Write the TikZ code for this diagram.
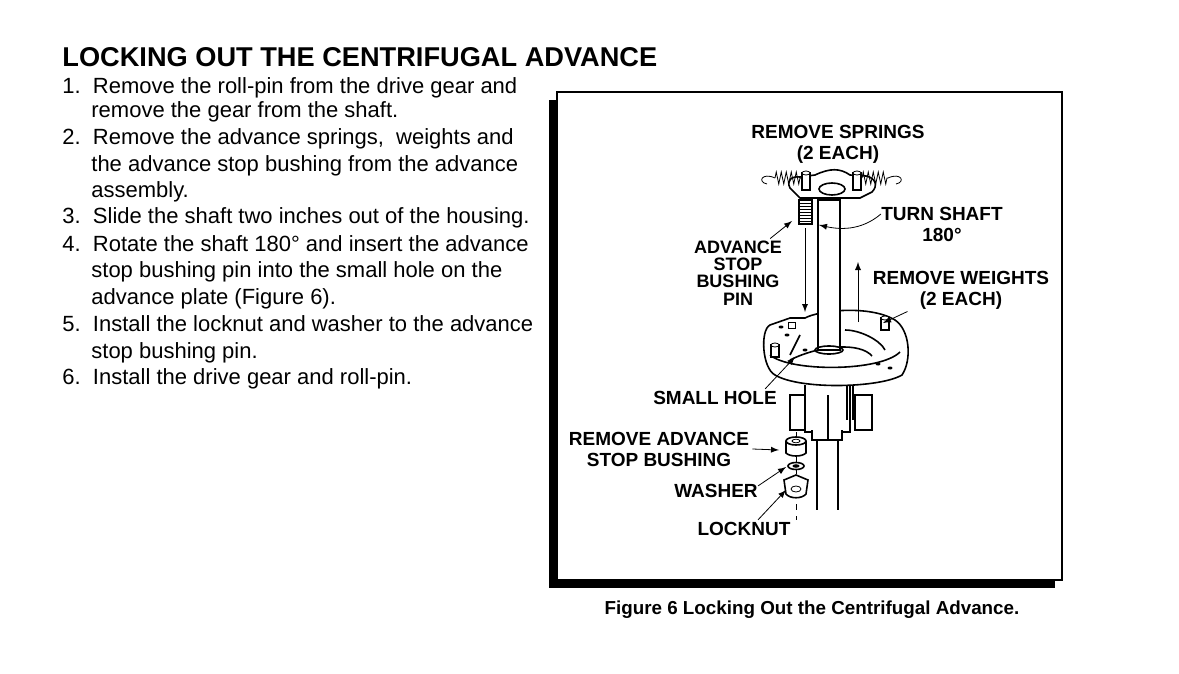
\documentclass[tikz,border=0pt]{standalone}
\usepackage{fontspec}
\setmainfont{Liberation Sans}
\usetikzlibrary{decorations.pathmorphing}
\tikzset{
  body/.style={anchor=base west,font=\fontsize{11}{12}\selectfont,inner sep=0pt},
  lbl/.style={font=\bfseries\fontsize{9.5}{9.5}\selectfont,inner sep=0pt,align=center},
  ptr/.style={-latex,thin},
  part/.style={line width=0.8pt,fill=white},
}
\begin{document}
\begin{tikzpicture}[x=0.5pt,y=-0.5pt]
\useasboundingbox (0,0) rectangle (1179,674);
% heading and steps
\node[anchor=west,inner sep=0pt,font=\bfseries\fontsize{13.6}{12}\selectfont] (head) at (62,57) {LOCKING OUT THE CENTRIFUGAL ADVANCE};
\foreach \y/\x/\t [count=\i] in {
  86/62/{1.\ \ Remove the roll-pin from the drive gear and},
  110/91/{remove the gear from the shaft.},
  137/62/{2.\ \ Remove the advance springs,\ \ weights and},
  163/91/{the advance stop bushing from the advance},
  190/91/{assembly.},
  216/62/{3.\ \ Slide the shaft two inches out of the housing.},
  243/62/{4.\ \ Rotate the shaft 180° and insert the advance},
  270/91/{stop bushing pin into the small hole on the},
  296/91/{advance plate (Figure 6).},
  323/62/{5.\ \ Install the locknut and washer to the advance},
  350/91/{stop bushing pin.},
  376/62/{6.\ \ Install the drive gear and roll-pin.}}
  \node[body] (step\i) at (\x,\y+8) {\t};
% figure frame
\fill (549,100) rectangle (1055,588);
\draw[line width=1pt,fill=white] (557,92) rectangle (1062,580);
\node[font=\bfseries\fontsize{9.4}{9}\selectfont] (caption) at (812,610) {Figure 6 Locking Out the Centrifugal Advance.};
% lower shaft and centre line
\draw[line width=0.8pt] (817,425) -- (817,510) (838,425) -- (838,510);
\draw[dashed,thin] (796,432) -- (796,520);
% lower body
\draw[part] (790,395) rectangle (810,430);
\draw[part] (855,395) rectangle (872,430);
\draw[part] (805,385) -- (805,432) -- (850,432) -- (850,385);
\draw[part] (812,430) -- (812,440) -- (842,440) -- (842,430);
\draw[line width=0.8pt] (828,395) -- (828,440) (847,382) -- (847,420) (853,378) -- (853,420);
% advance plate
\draw[part] (770,325) .. controls (760,330) and (762,368) .. (775,375)
  .. controls (800,390) and (880,388) .. (902,375)
  .. controls (912,360) and (910,330) .. (895,320)
  .. controls (870,305) and (820,310) .. (805,318) -- (790,318) -- cycle;
\draw[line width=0.8pt] (770,355) .. controls (790,372) and (880,372) .. (900,352);
\draw[line width=0.8pt] (790,360) .. controls (820,345) and (860,342) .. (872,356);
\draw[line width=0.8pt] (800,335) -- (790,355) (845,330) .. controls (860,330) and (880,340) .. (885,350);
\foreach \px/\py in {775/345,885/318} {
  \draw[part] (\px-4,\py) rectangle (\px+4,\py+12);
  \draw[fill=white] (\px,\py) ellipse (4 and 2);
}
\foreach \hx/\hy in {781/327,787/335,805/350,878/364,890/368}
  \fill (\hx,\hy) ellipse (2.5 and 1.5);
\draw[thin] (788,322) rectangle (795,328);
% upper shaft
\draw[part] (818,200) rectangle (840,350);
\draw[line width=0.8pt] (829,350) ellipse (14 and 4);
% top plate
\draw[part] (790,188) .. controls (786,180) and (792,176) .. (800,177) -- (815,175)
  .. controls (830,168) and (840,168) .. (850,175) -- (866,176)
  .. controls (876,178) and (878,186) .. (872,192) -- (860,198) -- (800,198) -- cycle;
\draw[line width=0.8pt] (832,189) ellipse (13 and 6);
\foreach \px in {806,857} {
  \draw[part] (\px-4,173) rectangle (\px+4,190);
  \draw[fill=white] (\px,173) ellipse (4 and 2);
}
% springs
\draw[decorate,decoration={zigzag,amplitude=3pt,segment length=2.5pt}] (775,178) -- (801,178);
\draw[decorate,decoration={zigzag,amplitude=3pt,segment length=2.5pt}] (862,178) -- (888,178);
\draw (775,178) .. controls (762,172) and (757,182) .. (767,184);
\draw (888,178) .. controls (901,172) and (906,182) .. (896,184);
% threaded pin
\draw[part] (799,200) rectangle (812,224);
\foreach \ty in {203,206,...,222} \draw (799,\ty) -- (812,\ty);
% bushing, washer, locknut
\draw[part] (786,441) -- (786,453) .. controls (790,457) and (802,457) .. (806,453) -- (806,441);
\draw[part] (796,441) ellipse (10 and 4);
\draw (796,441) ellipse (4 and 1.8);
\draw[part] (796,466) ellipse (8 and 3.5);
\draw[fill=black] (796,466) ellipse (3 and 1.3);
\draw[part] (784,480) -- (786,494) .. controls (790,499) and (802,499) .. (806,494) -- (808,480) -- (796,475) -- cycle;
\draw[fill=white] (796,489) ellipse (5 and 3);
% labels
\node[lbl] (springs) at (838,144) {REMOVE SPRINGS\\[1pt](2 EACH)};
\node[lbl] (turn) at (942,224) {TURN SHAFT\\[1pt]180°};
\node[lbl,font=\bfseries\fontsize{9}{8.6}\selectfont] (pinlbl) at (738,273) {ADVANCE\\STOP\\BUSHING\\PIN};
\node[lbl] (weights) at (961,290) {REMOVE WEIGHTS\\[1pt](2 EACH)};
\node[lbl] (hole) at (715,398) {SMALL HOLE};
\node[lbl] (bushing) at (659,449) {REMOVE ADVANCE\\[1pt]STOP BUSHING};
\node[lbl] (washer) at (716,491) {WASHER};
\node[lbl] (locknut) at (744,529) {LOCKNUT};
% pointer targets
\coordinate (pinend) at (792,221);
\coordinate (shaftend) at (819,225);
\coordinate (downtop) at (805,228);
\coordinate (downend) at (805,312);
\coordinate (uptail) at (858,322);
\coordinate (upend) at (858,262);
\coordinate (weightend) at (883,323);
\coordinate (holeend) at (795,357);
\coordinate (bushend) at (779,450);
\coordinate (washend) at (786,467);
\coordinate (nutend) at (786,490);
% arrows
\draw[ptr] (pinlbl.north east) ++(-12,-2) -- (pinend);
\draw[ptr] (turn.west) ++(0,-10) .. controls (868,225) and (850,232) .. (shaftend);
\draw[ptr] (downtop) -- (downend);
\draw[ptr] (uptail) -- (upend);
\draw[ptr] (weights.south west) ++(35,2) -- (weightend);
\draw[ptr] (hole.north east) ++(-12,-2) -- (holeend);
\draw[ptr] (bushing.east) ++(3,0) -- (bushend);
\draw[ptr] (washer.north east) ++(0,2) -- (washend);
\draw[ptr] (locknut.north) ++(14,-2) -- (nutend);
\end{tikzpicture}
\end{document}
